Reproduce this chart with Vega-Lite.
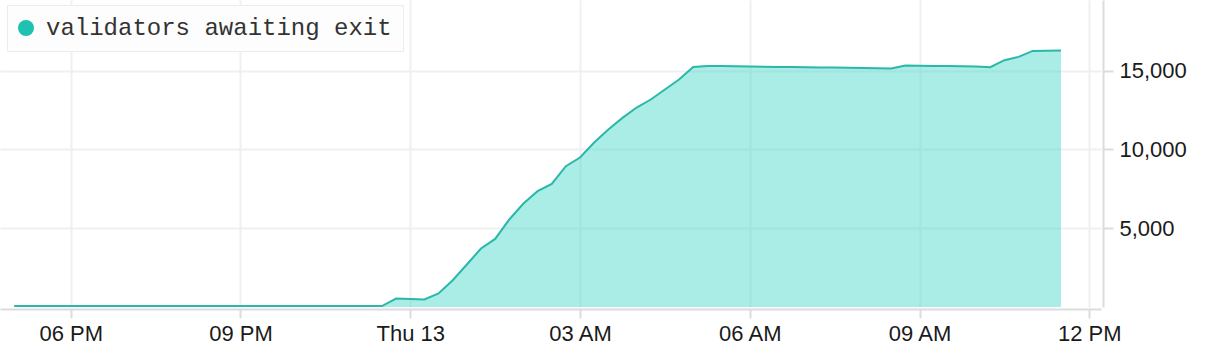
{
  "$schema": "https://vega.github.io/schema/vega-lite/v6.json",
  "width": 1101,
  "height": 307,
  "padding": 0,
  "background": "#ffffff",
  "config": {"view": {"stroke": null}},
  "data": {"values": [
    {"t": "2025-03-12T17:00:00Z", "v": 60},
    {"t": "2025-03-12T17:15:00Z", "v": 60},
    {"t": "2025-03-12T17:30:00Z", "v": 60},
    {"t": "2025-03-12T17:45:00Z", "v": 60},
    {"t": "2025-03-12T18:00:00Z", "v": 60},
    {"t": "2025-03-12T18:15:00Z", "v": 60},
    {"t": "2025-03-12T18:30:00Z", "v": 60},
    {"t": "2025-03-12T18:45:00Z", "v": 60},
    {"t": "2025-03-12T19:00:00Z", "v": 60},
    {"t": "2025-03-12T19:15:00Z", "v": 60},
    {"t": "2025-03-12T19:30:00Z", "v": 60},
    {"t": "2025-03-12T19:45:00Z", "v": 60},
    {"t": "2025-03-12T20:00:00Z", "v": 60},
    {"t": "2025-03-12T20:15:00Z", "v": 60},
    {"t": "2025-03-12T20:30:00Z", "v": 60},
    {"t": "2025-03-12T20:45:00Z", "v": 60},
    {"t": "2025-03-12T21:00:00Z", "v": 60},
    {"t": "2025-03-12T21:15:00Z", "v": 60},
    {"t": "2025-03-12T21:30:00Z", "v": 60},
    {"t": "2025-03-12T21:45:00Z", "v": 60},
    {"t": "2025-03-12T22:00:00Z", "v": 60},
    {"t": "2025-03-12T22:15:00Z", "v": 60},
    {"t": "2025-03-12T22:30:00Z", "v": 60},
    {"t": "2025-03-12T22:45:00Z", "v": 60},
    {"t": "2025-03-12T23:00:00Z", "v": 60},
    {"t": "2025-03-12T23:15:00Z", "v": 60},
    {"t": "2025-03-12T23:30:00Z", "v": 60},
    {"t": "2025-03-12T23:45:00Z", "v": 539},
    {"t": "2025-03-13T00:00:00Z", "v": 514},
    {"t": "2025-03-13T00:15:00Z", "v": 476},
    {"t": "2025-03-13T00:30:00Z", "v": 857},
    {"t": "2025-03-13T00:45:00Z", "v": 1700},
    {"t": "2025-03-13T01:00:00Z", "v": 2697},
    {"t": "2025-03-13T01:15:00Z", "v": 3712},
    {"t": "2025-03-13T01:30:00Z", "v": 4321},
    {"t": "2025-03-13T01:45:00Z", "v": 5552},
    {"t": "2025-03-13T02:00:00Z", "v": 6567},
    {"t": "2025-03-13T02:15:00Z", "v": 7348},
    {"t": "2025-03-13T02:30:00Z", "v": 7811},
    {"t": "2025-03-13T02:45:00Z", "v": 8934},
    {"t": "2025-03-13T03:00:00Z", "v": 9486},
    {"t": "2025-03-13T03:15:00Z", "v": 10438},
    {"t": "2025-03-13T03:30:00Z", "v": 11262},
    {"t": "2025-03-13T03:45:00Z", "v": 11998},
    {"t": "2025-03-13T04:00:00Z", "v": 12658},
    {"t": "2025-03-13T04:15:00Z", "v": 13166},
    {"t": "2025-03-13T04:30:00Z", "v": 13800},
    {"t": "2025-03-13T04:45:00Z", "v": 14435},
    {"t": "2025-03-13T05:00:00Z", "v": 15234},
    {"t": "2025-03-13T05:15:00Z", "v": 15298},
    {"t": "2025-03-13T05:30:00Z", "v": 15285},
    {"t": "2025-03-13T05:45:00Z", "v": 15270},
    {"t": "2025-03-13T06:00:00Z", "v": 15255},
    {"t": "2025-03-13T06:15:00Z", "v": 15245},
    {"t": "2025-03-13T06:30:00Z", "v": 15235},
    {"t": "2025-03-13T06:45:00Z", "v": 15225},
    {"t": "2025-03-13T07:00:00Z", "v": 15212},
    {"t": "2025-03-13T07:15:00Z", "v": 15200},
    {"t": "2025-03-13T07:30:00Z", "v": 15190},
    {"t": "2025-03-13T07:45:00Z", "v": 15175},
    {"t": "2025-03-13T08:00:00Z", "v": 15160},
    {"t": "2025-03-13T08:15:00Z", "v": 15150},
    {"t": "2025-03-13T08:30:00Z", "v": 15135},
    {"t": "2025-03-13T08:45:00Z", "v": 15320},
    {"t": "2025-03-13T09:00:00Z", "v": 15310},
    {"t": "2025-03-13T09:15:00Z", "v": 15300},
    {"t": "2025-03-13T09:30:00Z", "v": 15290},
    {"t": "2025-03-13T09:45:00Z", "v": 15275},
    {"t": "2025-03-13T10:00:00Z", "v": 15260},
    {"t": "2025-03-13T10:15:00Z", "v": 15220},
    {"t": "2025-03-13T10:30:00Z", "v": 15660},
    {"t": "2025-03-13T10:45:00Z", "v": 15870},
    {"t": "2025-03-13T11:00:00Z", "v": 16250},
    {"t": "2025-03-13T11:15:00Z", "v": 16265},
    {"t": "2025-03-13T11:30:00Z", "v": 16275}
  ]},
  "encoding": {
    "x": {
      "field": "t", "type": "temporal",
      "scale": {"type": "utc", "domain": [1741797900000, 1741867944000], "nice": false},
      "axis": {
        "title": null,
        "values": [1741802400000, 1741813200000, 1741824000000, 1741834800000, 1741845600000, 1741856400000, 1741867200000],
        "labelExpr": "utchours(datum.value) == 0 ? utcFormat(datum.value, '%a %d') : utcFormat(datum.value, '%I %p')",
        "grid": true, "gridColor": "#f0f0f0", "gridWidth": 2,
        "domainColor": "#dcdcdc", "domainWidth": 2,
        "tickColor": "#dcdcdc", "tickWidth": 2, "tickSize": 9,
        "offset": 2,
        "labelFont": "Liberation Sans", "labelFontSize": 22, "labelColor": "#1a1a1a",
        "labelPadding": 5, "labelFlush": false, "labelOverlap": false
      }
    },
    "y": {
      "field": "v", "type": "quantitative",
      "scale": {"domain": [0, 19480], "nice": false},
      "axis": {
        "title": null, "orient": "right",
        "values": [5000, 10000, 15000],
        "labelExpr": "format(datum.value, ',.0f')",
        "grid": true, "gridColor": "#f0f0f0", "gridWidth": 2,
        "domainColor": "#dcdcdc", "domainWidth": 2,
        "tickColor": "#dcdcdc", "tickWidth": 2, "tickSize": 10,
        "offset": 2,
        "labelFont": "Liberation Sans", "labelFontSize": 22, "labelColor": "#1a1a1a",
        "labelPadding": 6
      }
    }
  },
  "layer": [
    {
      "mark": {"type": "area", "fill": "#3dd5c5", "fillOpacity": 0.44}
    },
    {
      "mark": {"type": "line", "strokeWidth": 2},
      "encoding": {
        "color": {
          "datum": "validators awaiting exit",
          "scale": {"range": ["#2bb7a9"]},
          "legend": {
            "title": null,
            "orient": "none", "legendX": 7, "legendY": 5,
            "padding": 11,
            "fillColor": "#fdfdfd", "strokeColor": "#ececec",
            "symbolType": "circle", "symbolSize": 256, "symbolOffset": -4,
            "symbolFillColor": "#1fc2b2", "symbolStrokeWidth": 0,
            "labelFont": "Liberation Mono", "labelFontSize": 24, "labelColor": "#333333",
            "labelOffset": 8, "labelLimit": 600
          }
        }
      }
    }
  ]
}
